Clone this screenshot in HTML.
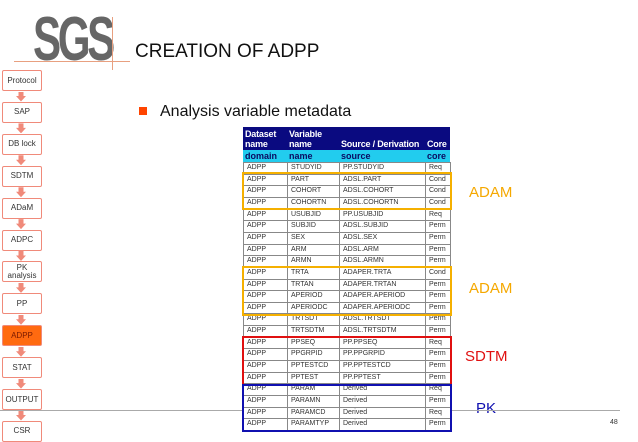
<!DOCTYPE html>
<html><head><meta charset="utf-8"><style>
body{margin:0;width:638px;height:442px;position:relative;background:#fff;font-family:"Liberation Sans",sans-serif;overflow:hidden}
.box{position:absolute;left:2px;width:38px;height:19px;border:1.5px solid #f08a7a;border-radius:2px;background:#fff;font-size:8px;color:#333;display:flex;align-items:center;justify-content:center;text-align:center;line-height:8px}
.arr{position:absolute;left:16px;width:10px;height:10px;background:#f08a7a;clip-path:polygon(25% 0,75% 0,75% 45%,100% 45%,50% 100%,0 45%,25% 45%)}
.c{position:absolute;box-sizing:border-box;border:1px solid #888;background:#fff;font-size:7px;color:#333;padding-left:3px;line-height:10px;white-space:nowrap;overflow:hidden;z-index:2}
.h{position:absolute;box-sizing:border-box;background:#0a0a80;color:#fff;font-size:9px;font-weight:bold;padding:1px 2px;line-height:10px;z-index:2;display:flex;align-items:flex-end;white-space:nowrap;letter-spacing:-0.2px}
.cy{position:absolute;box-sizing:border-box;background:#22ccee;color:#0a0a60;font-weight:bold;font-size:9px;padding-left:2px;line-height:12px;z-index:2}
.hl{position:absolute;left:242px;width:206px;border:2px solid;z-index:3}
.lab{position:absolute;font-size:15px}
</style></head><body>
<div style="position:absolute;left:33px;top:4px;font-size:62px;font-weight:bold;color:#666;transform:scaleX(0.68);transform-origin:left;letter-spacing:-5px">SGS</div>
<div style="position:absolute;left:14px;top:61px;width:116px;height:1px;background:#e8a080"></div>
<div style="position:absolute;left:112px;top:17px;width:1px;height:53px;background:#e8a080"></div>
<div style="position:absolute;left:135px;top:41px;font-size:19px;color:#111">CREATION OF ADPP</div>
<div style="position:absolute;left:139px;top:107px;width:8px;height:8px;background:#ff4400"></div>
<div style="position:absolute;left:160px;top:103px;font-size:16px;color:#111">Analysis variable metadata</div>
<div id="flow"></div>
<div id="tbl"></div>
<div class="hl" style="top:172px;height:34px;border-color:#f5b000"></div>
<div class="hl" style="top:266px;height:46px;border-color:#f5b000"></div>
<div class="hl" style="top:336px;height:46px;border-color:#e01010"></div>
<div class="hl" style="top:384px;height:44px;border-color:#1010b0"></div>
<div class="lab" style="left:469px;top:184px;color:#f5a800">ADAM</div>
<div class="lab" style="left:469px;top:280px;color:#f5a800">ADAM</div>
<div class="lab" style="left:465px;top:348px;color:#e01010">SDTM</div>
<div class="lab" style="left:476px;top:400px;color:#1010b0">PK</div>
<div style="position:absolute;left:0;top:410px;width:620px;height:1px;background:#aaa"></div>
<div style="position:absolute;left:610px;top:419px;font-size:7px;color:#333">48</div>
<script>
const steps=["Protocol","SAP","DB lock","SDTM","ADaM","ADPC","PK<br>analysis","PP","ADPP","STAT","OUTPUT","CSR"];
const f=document.getElementById('flow');
steps.forEach((s,i)=>{const y=70+i*31.9;
const b=document.createElement('div');b.className='box';b.style.top=y+'px';b.innerHTML=s;


if(s==="ADPP"){b.style.background='#ff6a10';b.style.color='#7a1a00';}
f.appendChild(b);
if(i<steps.length-1){const a=document.createElement('div');a.className='arr';a.style.top=(y+21.5)+'px';


f.appendChild(a);}});
const rows=[["STUDYID","PP.STUDYID","Req"],["PART","ADSL.PART","Cond"],["COHORT","ADSL.COHORT","Cond"],["COHORTN","ADSL.COHORTN","Cond"],["USUBJID","PP.USUBJID","Req"],["SUBJID","ADSL.SUBJID","Perm"],["SEX","ADSL.SEX","Perm"],["ARM","ADSL.ARM","Perm"],["ARMN","ADSL.ARMN","Perm"],["TRTA","ADAPER.TRTA","Cond"],["TRTAN","ADAPER.TRTAN","Perm"],["APERIOD","ADAPER.APERIOD","Perm"],["APERIODC","ADAPER.APERIODC","Perm"],["TRTSDT","ADSL.TRTSDT","Perm"],["TRTSDTM","ADSL.TRTSDTM","Perm"],["PPSEQ","PP.PPSEQ","Req"],["PPGRPID","PP.PPGRPID","Perm"],["PPTESTCD","PP.PPTESTCD","Perm"],["PPTEST","PP.PPTEST","Perm"],["PARAM","Derived","Req"],["PARAMN","Derived","Perm"],["PARAMCD","Derived","Req"],["PARAMTYP","Derived","Perm"]];
const colX=[243,287,339,425,450];
const t=document.getElementById('tbl');
function cell(cls,x,y,w,h,html,name){const d=document.createElement('div');d.className=cls;
d.style.cssText+=`left:${x}px;top:${y}px;width:${w}px;height:${h}px`;d.innerHTML=html;


t.appendChild(d);}
const heads=["Dataset<br>name","Variable<br>name","Source / Derivation","Core"];
const sub=["domain","name","source","core"];
for(let c=0;c<4;c++){
cell('h',colX[c],127,colX[c+1]-colX[c],23,heads[c],'header-cell');
cell('cy',colX[c],150,colX[c+1]-colX[c],12,sub[c],'subheader-cell');}
const rh=(430-162)/rows.length;
rows.forEach((r,i)=>{const y=162+i*rh;const v=["ADPP",r[0],r[1],r[2]];
for(let c=0;c<4;c++)cell('c',colX[c],y,colX[c+1]-colX[c]+1,rh+1,v[c],'table-cell');});
</script>
</body></html>
